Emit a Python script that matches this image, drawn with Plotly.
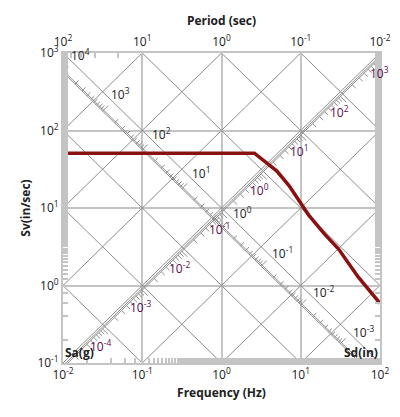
import numpy as np
import plotly.graph_objects as go

# response spectrum (frequency Hz, Sv in/sec)
freq = [0.01, 0.1, 1.0, 2.6, 5.0, 7.1, 12.6, 20.0, 30.0, 53.0, 100.0]
sv = [51, 51, 51, 51, 30, 19.5, 8.1, 4.6, 2.95, 1.29, 0.59]

sd_exps = [4, 3, 2, 1, 0, -1, -2, -3]
sa_exps = [-4, -3, -2, -1, 0, 1, 2, 3]
x_exps = [-2, -1, 0, 1, 2]
y_exps = [-1, 0, 1, 2, 3]

grid_col = "#c4c4c4"
diag_col = "#8c8c8c"
font = "Open Sans"
txt_col = "#202020"

fig = go.Figure()

# diagonal grid lines through decade corners (log space)
u = np.array([-2.5, 2.5])
xs, ys = [], []
for k in range(-4, 7):
    for sign in (1, -1):
        xs += list(10 ** u) + [None]
        ys += list(10 ** (sign * u + k)) + [None]
fig.add_trace(go.Scatter(x=xs, y=ys, mode="lines", line=dict(color=diag_col, width=1),
                         hoverinfo="skip", showlegend=False))


def axis_with_ticks(c, sign, tick_dir):
    # axis line v = sign*u + c, ticks every minor step; half decade of u per label decade
    ax, ay = [], []
    for off in (0, 0.025):
        ax += list(10 ** u) + [None]
        ay += list(10 ** (sign * u + c + off)) + [None]
    for d in range(-8, 8):
        for m in range(1, 10):
            uu = (d + np.log10(m)) / 2
            vv = sign * uu + c
            L = 0.07 if m == 1 else 0.045
            ax += [10 ** uu, 10 ** (uu + tick_dir[0] * L), None]
            ay += [10 ** vv, 10 ** (vv + tick_dir[1] * L), None]
    fig.add_trace(go.Scatter(x=ax, y=ay, mode="lines", line=dict(color=diag_col, width=1),
                             hoverinfo="skip", showlegend=False))


axis_with_ticks(0.75, -1, (1, 1))    # Sd axis
axis_with_ticks(0.94, 1, (1, -1))    # Sa axis

fig.add_trace(go.Scatter(x=freq, y=sv, mode="lines", line=dict(color="#8b1010", width=3.5),
                         hoverinfo="skip", showlegend=False))

ann = []
for n in sd_exps:
    uu = -1.78 + 0.511 * (4 - n)
    ann.append(dict(x=uu, y=1.2 - uu, text=f"10<sup>{n}</sup>", showarrow=False,
                    font=dict(color=txt_col, size=12, family=font)))
for n in sa_exps:
    uu = -1.53 + 0.503 * (n + 4)
    ann.append(dict(x=uu, y=uu + 0.75, text=f"10<sup>{n}</sup>", showarrow=False,
                    font=dict(color="#5a0a4a", size=12, family=font)))
ann.append(dict(x=0, y=0, xref="paper", yref="paper", xanchor="left", yanchor="bottom",
                text="<b>Sa(g)</b>", showarrow=False, font=dict(size=12, family=font, color=txt_col)))
ann.append(dict(x=1, y=0, xref="paper", yref="paper", xanchor="right", yanchor="bottom",
                text="<b>Sd(in)</b>", showarrow=False, font=dict(size=12, family=font, color=txt_col)))


def ax_opts(exps):
    return dict(type="log", tickvals=[10.0 ** e for e in exps],
                ticktext=[f"10<sup>{e}</sup>" for e in exps],
                showline=True, linecolor=grid_col, linewidth=2, ticks="inside", ticklen=8,
                tickcolor=grid_col, tickwidth=2,
                minor=dict(ticks="inside", ticklen=5, tickcolor=grid_col, showgrid=False),
                tickfont=dict(size=12, family=font, color=txt_col))


title_font = dict(size=12, family=font, color=txt_col)

fig.add_trace(go.Scatter(x=[100, 0.01], y=[1, 1], xaxis="x2", mode="markers",
                         marker=dict(opacity=0), hoverinfo="skip", showlegend=False))
fig.add_trace(go.Scatter(x=[1, 1], y=[0.1, 1000], yaxis="y2", mode="markers",
                         marker=dict(opacity=0), hoverinfo="skip", showlegend=False))

fig.update_layout(
    width=400, height=417, margin=dict(l=55, r=28, t=40, b=62),
    plot_bgcolor="white", paper_bgcolor="white",
    xaxis=dict(**ax_opts(x_exps), range=[-2, 2], showgrid=True, gridcolor=grid_col, gridwidth=2,
               title=dict(text="<b>Frequency (Hz)</b>", font=title_font, standoff=6)),
    xaxis2=dict(**ax_opts([2, 1, 0, -1, -2]), range=[2, -2], overlaying="x", side="top",
                showgrid=False, title=dict(text="<b>Period (sec)</b>", font=title_font, standoff=4)),
    yaxis=dict(**ax_opts(y_exps), range=[-1, 3], showgrid=True, gridcolor=grid_col, gridwidth=2,
               title=dict(text="<b>Sv(in/sec)</b>", font=title_font, standoff=4)),
    yaxis2=dict(**ax_opts(y_exps), range=[-1, 3], overlaying="y", side="right", showgrid=False,
                showticklabels=False),
    annotations=ann,
)

fig.write_html("out.html")
